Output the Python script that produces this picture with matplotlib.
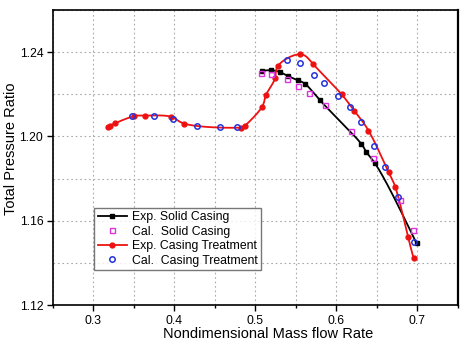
import numpy as np
import matplotlib
matplotlib.use("Agg")
import matplotlib.pyplot as plt
from matplotlib.ticker import MultipleLocator, FormatStrFormatter
from matplotlib.lines import Line2D

plt.rcParams['font.family'] = ['Liberation Sans', 'DejaVu Sans']

# Exp. Solid Casing
exp_solid_x = [0.5075, 0.5192, 0.5304, 0.5399, 0.5523, 0.5615, 0.5793, 0.6308, 0.6365, 0.6474, 0.6988]
exp_solid_y = [1.2311, 1.2314, 1.2305, 1.2287, 1.2267, 1.2249, 1.2173, 1.1964, 1.1928, 1.1873, 1.1493]

# Cal. Solid Casing
cal_solid_x = [0.5062, 0.5192, 0.5386, 0.5527, 0.5664, 0.5855, 0.6179, 0.6453, 0.6781, 0.6948]
cal_solid_y = [1.2300, 1.2298, 1.2272, 1.2241, 1.2208, 1.2148, 1.2026, 1.1898, 1.1697, 1.1557]

# Exp. Casing Treatment
exp_ct_x = [0.3174, 0.3200, 0.3270, 0.3498, 0.3630, 0.3963, 0.4120, 0.4818, 0.4868, 0.5083,
            0.5130, 0.5240, 0.5274, 0.5548, 0.5706, 0.6063, 0.6217, 0.6395, 0.6644, 0.6727,
            0.6885, 0.6951]
exp_ct_y = [1.2047, 1.2051, 1.2063, 1.2096, 1.2099, 1.2093, 1.2061, 1.2042, 1.2050, 1.2142,
            1.2197, 1.2275, 1.2333, 1.2390, 1.2346, 1.2200, 1.2123, 1.2028, 1.1830, 1.1759,
            1.1521, 1.1424]

# Cal. Casing Treatment
cal_ct_x = [0.3481, 0.3751, 0.3984, 0.4283, 0.4564, 0.4768, 0.5391, 0.5553, 0.5718, 0.5852,
            0.6021, 0.6163, 0.6300, 0.6462, 0.6603, 0.6765, 0.6956]
cal_ct_y = [1.2099, 1.2096, 1.2083, 1.2051, 1.2045, 1.2045, 1.2362, 1.2348, 1.2292, 1.2254,
            1.2194, 1.2142, 1.2070, 1.1953, 1.1854, 1.1714, 1.1499]

x_ticks = [0.3, 0.4, 0.5, 0.6, 0.7]
y_ticks = [1.12, 1.16, 1.20, 1.24]


def _natural(t, v, ts):
    m = len(t)
    h = np.diff(t)
    A = np.zeros((m, m)); b = np.zeros(m)
    A[0, 0] = 1; A[-1, -1] = 1
    for i in range(1, m - 1):
        A[i, i - 1] = h[i - 1]
        A[i, i] = 2 * (h[i - 1] + h[i])
        A[i, i + 1] = h[i]
        b[i] = 3 * ((v[i + 1] - v[i]) / h[i] - (v[i] - v[i - 1]) / h[i - 1])
    c = np.linalg.solve(A, b)
    idx = np.clip(np.searchsorted(t, ts) - 1, 0, m - 2)
    d = ts - t[idx]
    hi = h[idx]
    bb = (v[idx + 1] - v[idx]) / hi - hi * (2 * c[idx] + c[idx + 1]) / 3
    dd = (c[idx + 1] - c[idx]) / (3 * hi)
    return v[idx] + bb * d + c[idx] * d ** 2 + dd * d ** 3


def smooth_line(x, y, ax, n=600):
    """Parametric (centripetal, in display space) cubic spline through points, for drawing."""
    pts = ax.transData.transform(np.column_stack([x, y]))
    seg = np.hypot(*np.diff(pts, axis=0).T)
    t = np.concatenate([[0], np.cumsum(np.sqrt(seg))])
    ts = np.linspace(0, t[-1], n)
    px = _natural(t, pts[:, 0], ts)
    py = _natural(t, pts[:, 1], ts)
    out = ax.transData.inverted().transform(np.column_stack([px, py]))
    return out[:, 0], out[:, 1]


fig = plt.figure(figsize=(4.74, 3.45), dpi=100)
ax = fig.add_axes([0.1118, 0.1159, 0.8544, 0.8551])
ax.set_xlim(0.25, 0.75)
ax.set_ylim(1.12, 1.26)

sx, sy = smooth_line(exp_solid_x, exp_solid_y, ax)
ax.plot(sx, sy, color='black', lw=1.3, zorder=3)
ax.plot(exp_solid_x, exp_solid_y, 's', color='black', ms=3, zorder=4)

rx, ry = smooth_line(exp_ct_x, exp_ct_y, ax)
ax.plot(rx, ry, color='#ee1111', lw=1.3, zorder=3)
ax.plot(exp_ct_x, exp_ct_y, 'o', color='#ee1111', ms=3.5, zorder=4)

ax.plot(cal_solid_x, cal_solid_y, 's', mfc='none', mec='#dd33dd', mew=1.0, ms=3.6, zorder=5)
ax.plot(cal_ct_x, cal_ct_y, 'o', mfc='none', mec='#2233dd', mew=1.1, ms=3.9, zorder=5)

handles = [
    Line2D([], [], color='black', lw=1.3, marker='s', ms=3),
    Line2D([], [], ls='none', marker='s', mfc='none', mec='#dd33dd', mew=1.0, ms=3.6),
    Line2D([], [], color='#ee1111', lw=1.3, marker='o', ms=3.5),
    Line2D([], [], ls='none', marker='o', mfc='none', mec='#2233dd', mew=1.1, ms=3.9),
]
labels = ['Exp. Solid Casing', 'Cal.  Solid Casing', 'Exp. Casing Treatment', 'Cal.  Casing Treatment']
leg = ax.legend(handles, labels, loc='lower left', bbox_to_anchor=(0.101, 0.118),
                fontsize=8.8, frameon=True, fancybox=False, edgecolor='#555555',
                handlelength=2.4, handletextpad=0.4, labelspacing=0.2,
                borderpad=0.3, borderaxespad=0)
leg.get_frame().set_linewidth(1.0)

ax.set_xticks(x_ticks)
ax.set_yticks(y_ticks)
ax.xaxis.set_minor_locator(MultipleLocator(0.05))
ax.yaxis.set_minor_locator(MultipleLocator(0.02))
ax.yaxis.set_major_formatter(FormatStrFormatter('%.2f'))
ax.xaxis.set_major_formatter(FormatStrFormatter('%.1f'))
ax.grid(True, which='both', ls=(0, (1.5, 2.5)), color='#aaaaaa', lw=0.8)
ax.set_axisbelow(True)
ax.tick_params(which='major', direction='out', length=4, width=1, labelsize=8.8, pad=3)
ax.tick_params(axis='x', which='minor', direction='out', length=2.5, width=1)
ax.tick_params(axis='y', which='minor', length=0)
for s in ax.spines.values():
    s.set_linewidth(1.2)
    s.set_color('black')
ax.spines['right'].set_linewidth(1.6)

ax.set_xlabel('Nondimensional Mass flow Rate', fontsize=10.5)
ax.xaxis.set_label_coords(0.53, -0.076)
ax.set_ylabel('Total Pressure Ratio', fontsize=10.5)
ax.yaxis.set_label_coords(-0.086, 0.53)

fig.savefig('out.png', dpi=100)
